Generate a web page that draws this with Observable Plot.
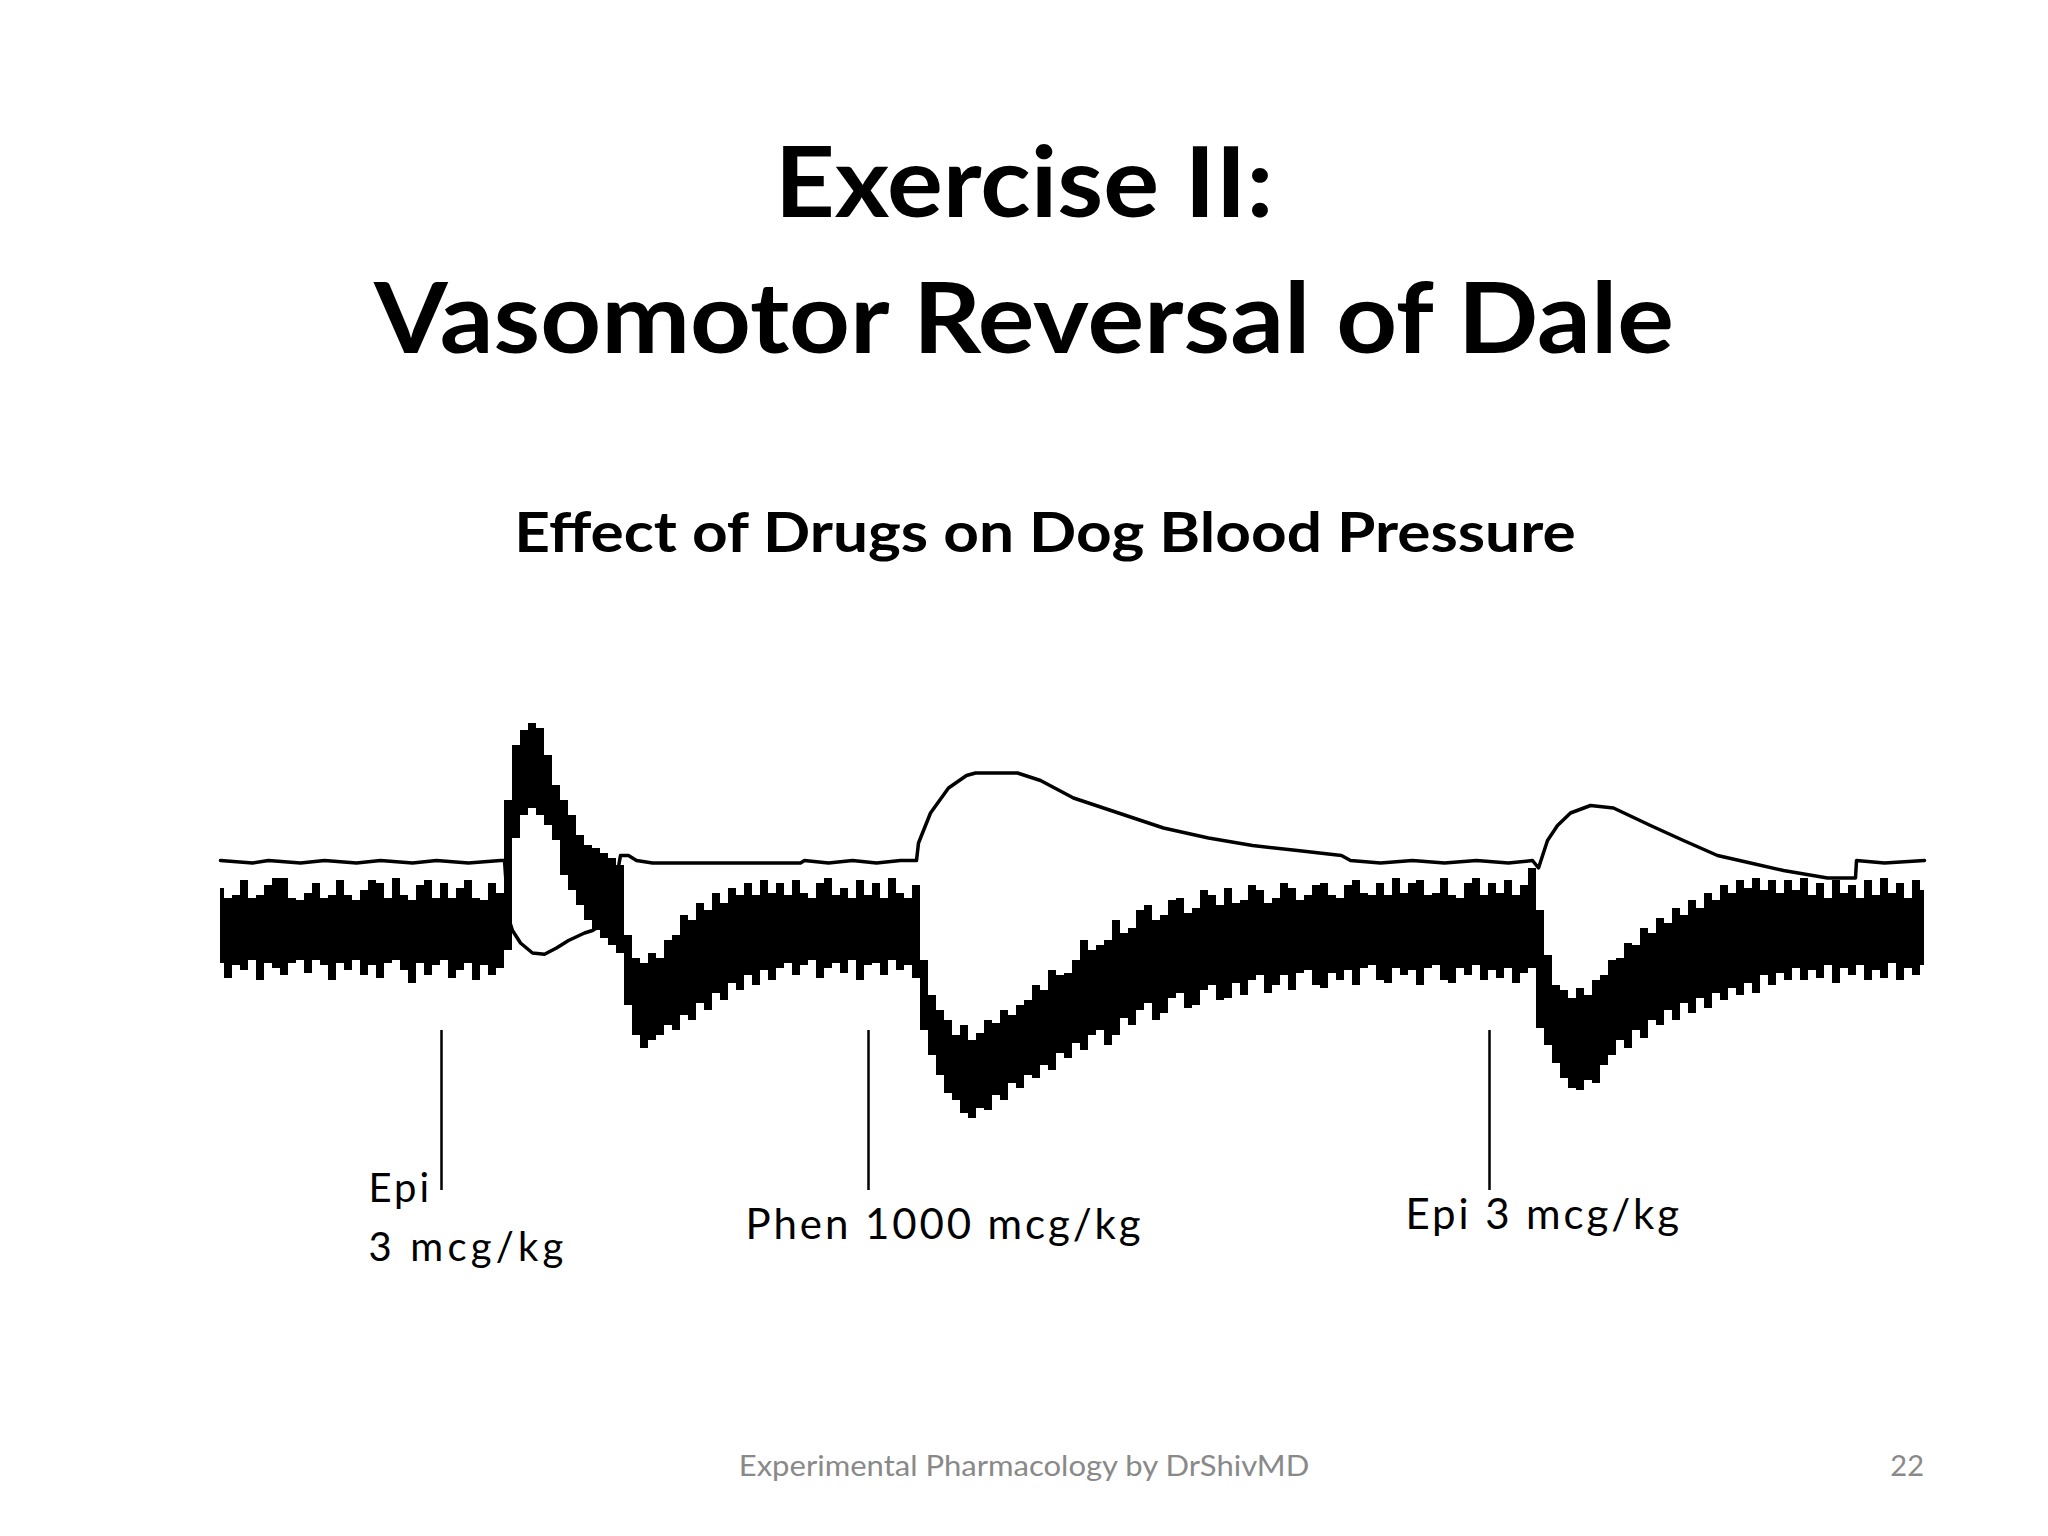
<!DOCTYPE html>
<html>
<head>
<meta charset="utf-8">
<script src="https://cdn.jsdelivr.net/npm/d3@7"></script>
<script src="https://cdn.jsdelivr.net/npm/@observablehq/plot@0.6"></script>
<style>
html, body { margin: 0; padding: 0; background: #fff; }
#page { position: relative; width: 2048px; height: 1536px; overflow: hidden; background: #fff; font-family: Lato, "Open Sans", sans-serif; }
.t { position: absolute; white-space: nowrap; line-height: 1; color: #000; transform-origin: 50% 50%; }
#chart { position: absolute; left: 0; top: 680px; }
</style>
</head>
<body>
<div id="page">
  <div class="t" id="title1" style="left:1024px; top:130px; font-size:98px; font-weight:700; transform:translateX(-50%) scaleX(1.067);">Exercise II:</div>
  <div class="t" id="title2" style="left:1024px; top:266px; font-size:98px; font-weight:700; transform:translateX(-50%) scaleX(1.083);">Vasomotor Reversal of Dale</div>
  <div class="t" id="subtitle" style="left:1045px; top:503px; font-size:56px; font-weight:700; transform:translateX(-50%) scaleX(1.11);">Effect of Drugs on Dog Blood Pressure</div>
  <div id="chart"></div>
  <div class="t" id="footer" style="left:1024px; top:1450px; font-size:29px; color:#898989; transform:translateX(-50%) scaleX(1.07);">Experimental Pharmacology by DrShivMD</div>
  <div class="t" id="pagenum" style="right:124px; top:1450px; font-size:29px; color:#898989;">22</div>
</div>
<script>
// ---- Data (time in s, pressure in arbitrary mmHg-like units) ----
const sampleStep = 2;           // seconds between samples of the pulse band
// upper (systolic) envelope of the pulse band
const upper = [
  // baseline t=0..70
  125,121,122,128,121,122,126,129,129,121,120,123,127,121,122,128,122,120,124,128,127,121,129,122,120,126,128,121,127,121,125,128,121,120,127,123,
  // Epi 3 mcg/kg t=72..140
  160,182,188,191,189,178,166,160,154,146,142,141,139,137,134,106,97,95,99,97,104,106,114,112,119,116,123,119,125,122,127,122,128,123,127,
  // baseline t=142..174
  122,128,123,121,127,129,122,125,121,128,122,127,121,129,123,121,126,
  // Phen 1000 mcg/kg t=176..326
  96,82,76,72,66,70,64,67,72,71,
  76,74,78,80,86,84,92,90,91,96,
  104,100,102,104,112,107,109,116,118,112,
  114,120,121,115,117,124,122,118,125,119,
  120,126,124,119,121,127,125,120,122,126,
  127,122,121,126,128,123,122,127,122,129,
  123,127,128,122,123,129,122,121,127,129,
  122,127,123,128,122,126,
  // t=328
  133,
  // Epi 3 mcg/kg after Phen t=330..426
  116,98,86,84,81,85,82,88,90,96,
  97,103,102,109,107,113,111,117,114,120,
  117,123,120,126,123,128,125,129,124,128,
  123,128,124,129,122,127,121,128,123,126,
  121,128,122,129,123,127,121,128,124
];
// lower (diastolic) envelope of the pulse band
const lower = [
  // baseline t=0..70
  95,89,94,92,96,88,95,93,90,95,96,91,96,94,88,95,92,96,90,94,89,95,96,92,87,95,90,94,96,89,92,95,88,94,90,93,
  // Epi t=72..140
  100,145,154,157,154,150,144,130,124,118,112,108,105,102,99,78,66,61,64,66,70,68,74,72,79,76,83,80,87,84,90,86,92,88,93,
  // baseline t=142..174
  95,90,94,96,89,93,95,91,96,88,94,95,90,96,92,94,89,
  // Phen t=176..326
  68,58,50,43,40,35,33,37,36,42,
  40,47,45,50,49,54,52,59,57,63,
  60,66,68,62,66,73,70,76,79,72,
  75,81,83,77,78,84,86,80,81,87,
  82,88,90,83,86,90,84,91,92,86,
  85,91,88,92,86,93,94,88,87,93,
  90,92,86,93,94,88,87,93,90,94,
  88,92,89,93,87,91,
  // t=328
  93,
  // Epi after Phen t=330..426
  69,62,55,49,45,44,48,47,54,58,
  64,61,68,65,72,70,76,72,79,75,
  81,77,83,80,85,82,87,83,90,86,
  91,88,93,88,92,89,94,87,93,90,
  94,88,92,89,95,88,93,90,94
];
// thin trace
const thinT = [0,8,12,20,26,34,40,48,54,62,70,71,
  72,73,75,78,81,84,87,91,93,95,98,100,102,104,108,145,
  146,152,158,164,170,174,
  174.5,177.5,182,186.5,188.75,199.25,205,213.25,224.5,235.75,247,258,269.25,280.25,282.5,
  290,298,306,314,322,328,
  329.5,331.75,334.25,337.5,342.5,348.25,357.5,365.75,374.25,382.5,390.75,401.75,408.75,409,416,426];
const thinV = [136,135,136,135,136,135,136,135,136,135,136,136,
  113,108,103,99,98.5,101,104,107,108,110,120,138,138,136,135,135,
  136,135,136,135,136,136,
  143,155,165,170,171,171,168,161,155,149,145,142,140,138,136,
  135,136,135,136,135,136,
  133,144,150,155,158,157,150,144,138,135,132,129,129,136,135,136];
// drug injection markers (time, s)
const markerTimes = [55.25, 162, 317.25];
// annotation labels
const labelText = ["Epi", "3 mcg/kg", "Phen 1000 mcg/kg", "Epi 3 mcg/kg"];
const labelT    = [37, 37, 131.25, 296.25];
const labelV    = [-0.4, -24, -15.2, -11.2];

// ---- Build tables ----
const band = upper.map((u, i) => ({t: i * sampleStep, upper: u, lower: lower[i]}));
const thin = thinT.map((t, i) => ({t, v: thinV[i]}));
const markers = markerTimes.map(t => ({t}));
const labels = labelText.map((s, i) => ({text: s, t: labelT[i], v: labelV[i]}));
const labelFont = [40, 40, 42, 42];
const labelSpacing = [3, 4.2, 2.9, 2.9];

const chart = Plot.plot({
  width: 2048,
  height: 620,
  margin: 0,
  x: {domain: [0, 426], range: [220, 1924], axis: null},
  y: {domain: [-40, 208], range: [620, 0], axis: null},
  style: {background: "transparent", fontFamily: "Lato, 'Open Sans', sans-serif", overflow: "visible"},
  marks: [
    Plot.areaY(band, {x: "t", y1: "lower", y2: "upper", curve: "step", fill: "#000", shapeRendering: "crispEdges"}),
    Plot.line(thin, {x: "t", y: "v", stroke: "#000", strokeWidth: 3.5, curve: "linear"}),
    Plot.ruleX(markers, {x: "t", y1: 68, y2: 4, stroke: "#000", strokeWidth: 2.5}),
    ...labels.map((l, i) => Plot.text([l], {x: "t", y: "v", text: "text", textAnchor: "start", lineAnchor: "bottom", fontSize: labelFont[i], fill: "#000"}))
  ]
});
document.getElementById("chart").appendChild(chart);
// letter spacing for the annotation labels (one text mark per label, in order)
d3.select(chart).selectAll('g[aria-label="text"]').each(function(_, i) {
  d3.select(this).style("letter-spacing", labelSpacing[i] + "px");
});
</script>
</body>
</html>
